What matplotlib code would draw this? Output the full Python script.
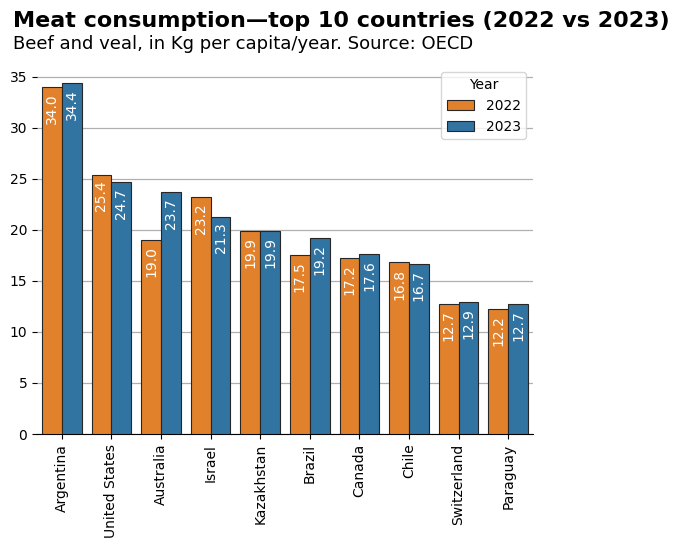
import numpy as np
import matplotlib
matplotlib.use("Agg")
import matplotlib.pyplot as plt

countries = ["Argentina", "United States", "Australia", "Israel", "Kazakhstan",
             "Brazil", "Canada", "Chile", "Switzerland", "Paraguay"]
v2022 = [34.0, 25.4, 19.0, 23.2, 19.9, 17.5, 17.2, 16.8, 12.7, 12.2]
v2023 = [34.4, 24.7, 23.7, 21.3, 19.9, 19.2, 17.6, 16.7, 12.9, 12.7]
years = ["2022", "2023"]
colors = ["#e1812c", "#3274a1"]

fig = plt.figure(figsize=(6.79, 5.48), dpi=100)
ax = fig.add_axes([0.0545, 0.208, 0.7305, 0.673])

x = np.arange(len(countries))
w = 0.4
for i, (vals, yr, c) in enumerate(zip([v2022, v2023], years, colors)):
    xs = x - w / 2 + i * w
    ax.bar(xs, vals, width=w, color=c, edgecolor="#262626", linewidth=0.8,
           label=yr, zorder=3)
    for xi, v in zip(xs, vals):
        ax.text(xi, v - 0.6, "%.1f" % v, rotation=90, ha="center", va="top",
                color="white", fontsize=10, zorder=4)

ax.set_xlim(-0.5, len(countries) - 0.5)
ax.set_ylim(0, 36.12)
ax.set_yticks(range(0, 36, 5))
ax.set_xticks(x)
ax.set_xticklabels(countries, rotation=90)
ax.tick_params(labelsize=10)
ax.yaxis.grid(True, color="#b0b0b0", linewidth=0.9, zorder=0)
ax.set_axisbelow(True)
for s in ["top", "right", "left"]:
    ax.spines[s].set_visible(False)

ax.legend(title="Year", loc="upper right", fontsize=10, title_fontsize=10)

fig.text(0.019, 0.962, "Meat consumption\u2014top 10 countries (2022 vs 2023)",
         fontsize=16, fontweight="bold", va="center")
fig.text(0.019, 0.920, "Beef and veal, in Kg per capita/year. Source: OECD",
         fontsize=13, va="center")

fig.savefig("out.png", dpi=100)
